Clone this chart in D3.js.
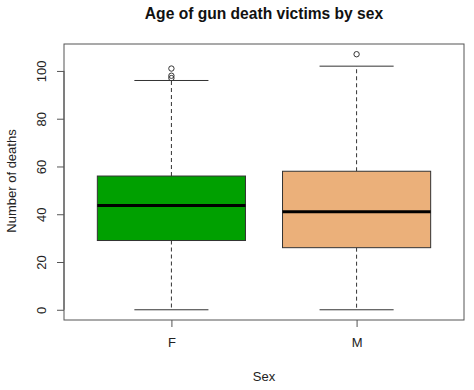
<!DOCTYPE html>
<html><head><meta charset="utf-8">
<script src="https://cdn.jsdelivr.net/npm/d3@7"></script>
<style>body{margin:0;background:#fff;} text{font-family:"Liberation Sans",Arial,sans-serif;}</style>
</head><body><svg id="c" width="474" height="390"></svg>
<script>
const categories = ["F", "M"];
const lowerWhisker = [0, 0];
const q1 = [29, 26];
const median = [43.7, 41];
const q3 = [56, 58];
const upperWhisker = [96, 102];
const outliers = [[97, 98, 101], [107]];
const fills = ["#00a000", "#ebb07a"];
const yTicks = [0, 20, 40, 60, 80, 100];
const title = "Age of gun death victims by sex";
const xLabel = "Sex";
const yLabel = "Number of deaths";

const svg = d3.select("#c");
const L = 64, R = 464, T = 44, B = 320;
const x = d3.scaleLinear().domain([0.42, 2.58]).range([L, R]);
const y = d3.scaleLinear().domain([-4.28, 111.28]).range([B, T]);
const bw = 0.4, cw = 0.2;
const gray = "#555";

categories.forEach((c, i) => {
  const cx = i + 1;
  const g = svg.append("g");
  g.append("line").attr("x1", x(cx)).attr("x2", x(cx)).attr("y1", y(q3[i])).attr("y2", y(upperWhisker[i]))
    .attr("stroke", "#333").attr("stroke-dasharray", "4,3");
  g.append("line").attr("x1", x(cx)).attr("x2", x(cx)).attr("y1", y(q1[i])).attr("y2", y(lowerWhisker[i]))
    .attr("stroke", "#333").attr("stroke-dasharray", "4,3");
  [upperWhisker[i], lowerWhisker[i]].forEach(v => {
    g.append("line").attr("x1", x(cx - cw)).attr("x2", x(cx + cw)).attr("y1", y(v)).attr("y2", y(v)).attr("stroke", "#333");
  });
  g.append("rect").attr("x", x(cx - bw)).attr("width", x(cx + bw) - x(cx - bw))
    .attr("y", y(q3[i])).attr("height", y(q1[i]) - y(q3[i]))
    .attr("fill", fills[i]).attr("stroke", "#333");
  g.append("line").attr("x1", x(cx - bw)).attr("x2", x(cx + bw)).attr("y1", y(median[i])).attr("y2", y(median[i]))
    .attr("stroke", "#000").attr("stroke-width", 3);
  outliers[i].forEach(v => {
    g.append("circle").attr("cx", x(cx)).attr("cy", y(v)).attr("r", 2.7).attr("fill", "none").attr("stroke", "#333");
  });
});

svg.append("rect").attr("x", L).attr("y", T).attr("width", R - L).attr("height", B - T)
  .attr("fill", "none").attr("stroke", gray);

const ya = svg.append("g").attr("transform", `translate(${L},0)`)
  .call(d3.axisLeft(y).tickValues(yTicks).tickSize(7).tickSizeOuter(0));
ya.select(".domain").attr("stroke", gray).attr("d", `M0,${y(0)}V${y(100)}`);
ya.selectAll(".tick line").attr("stroke", gray);
ya.selectAll(".tick text").attr("font-size", 13).attr("fill", "#222")
  .attr("text-anchor", "middle").attr("dy", null)
  .attr("transform", "rotate(-90)").attr("x", 0).attr("y", -18);

const xa = svg.append("g").attr("transform", `translate(0,${B})`)
  .call(d3.axisBottom(x).tickValues([1, 2]).tickFormat((d) => categories[d - 1]).tickSize(7).tickSizeOuter(0).tickPadding(11));
xa.select(".domain").remove();
xa.selectAll(".tick line").attr("stroke", gray);
xa.selectAll(".tick text").attr("font-size", 13).attr("fill", "#222");

svg.append("text").attr("x", 264).attr("y", 19).attr("text-anchor", "middle")
  .attr("font-size", 15.6).attr("font-weight", "bold").attr("fill", "#111").text(title);
svg.append("text").attr("x", 264).attr("y", 381).attr("text-anchor", "middle")
  .attr("font-size", 13).attr("fill", "#222").text(xLabel);
svg.append("text").attr("transform", "translate(16,181) rotate(-90)").attr("text-anchor", "middle")
  .attr("font-size", 13).attr("fill", "#222").text(yLabel);
</script></body></html>
